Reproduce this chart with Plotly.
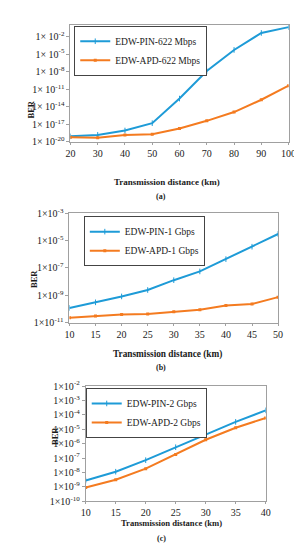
import plotly.graph_objects as go

W, H = 302, 550

# Panel (a) data
dist_a = [20, 30, 40, 50, 60, 70, 80, 90, 100]
pin_a_log = [-19.05, -18.8, -18.05, -16.8, -12.6, -7.9, -4.3, -1.4, -0.4]
apd_a_log = [-19.2, -19.3, -18.8, -18.7, -17.7, -16.4, -14.9, -12.8, -10.4]
# Panel (b) data
dist_b = [10, 15, 20, 25, 30, 35, 40, 45, 50]
pin_b_log = [-9.93, -9.52, -9.09, -8.62, -7.9, -7.26, -6.36, -5.45, -4.52]
apd_b_log = [-10.64, -10.52, -10.41, -10.38, -10.21, -10.07, -9.76, -9.64, -9.14]
# Panel (c) data
dist_c = [10, 15, 20, 25, 30, 35, 40]
pin_c_log = [-8.56, -7.95, -7.15, -6.25, -5.34, -4.49, -3.69]
apd_c_log = [-9.05, -8.51, -7.74, -6.75, -5.73, -4.9, -4.22]

pin_a = [10 ** v for v in pin_a_log]
apd_a = [10 ** v for v in apd_a_log]
pin_b = [10 ** v for v in pin_b_log]
apd_b = [10 ** v for v in apd_b_log]
pin_c = [10 ** v for v in pin_c_log]
apd_c = [10 ** v for v in apd_c_log]

ytick_a = [-20, -17, -14, -11, -8, -5, -2]
ytick_b = [-11, -9, -7, -5, -3]
ytick_c = [-10, -9, -8, -7, -6, -5, -4, -3, -2]

names = [("EDW-PIN-622 Mbps", "EDW-APD-622 Mbps"),
         ("EDW-PIN-1 Gbps", "EDW-APD-1 Gbps"),
         ("EDW-PIN-2 Gbps", "EDW-APD-2 Gbps")]

BLUE = "#1E9BD7"
ORANGE = "#F47B20"
FONT = "Liberation Serif"
TXT = "#1a1a1a"
AX = "#a0a0a0"

def px(x):
    return x / W

def py(y):
    return 1 - y / H

fig = go.Figure()

panels = [
    dict(x=dist_a, pin=pin_a, apd=apd_a, box=(60, 288, 10, 130), yr=[-20, 0], yt=ytick_a,
         fmt="1× 10<sup>%d</sup>", xt=dist_a, leg=(64, 11), cap="(a)",
         xt_x=160.5, xtitle_y=164, xt_size=9, cap_y=179, ber_x=12, ber_y=85),
    dict(x=dist_b, pin=pin_b, apd=apd_b, box=(59, 277, 203, 315), yr=[-11, -3], yt=ytick_b,
         fmt="1×10<sup>%d</sup>", xt=dist_b, leg=(74, 206), cap="(b)",
         xt_x=161, xtitle_y=348, xt_size=9.3, cap_y=361, ber_x=14, ber_y=270),
    dict(x=dist_c, pin=pin_c, apd=apd_c, box=(76, 264, 380, 498), yr=[-10, -2], yt=ytick_c,
         fmt="1×10<sup>%d</sup>", xt=dist_c, leg=(76, 382), cap="(c)",
         xt_x=166, xtitle_y=527, xt_size=8.6, cap_y=543, ber_x=36, ber_y=442),
]

annotations = []
for i, p in enumerate(panels):
    n = "" if i == 0 else str(i + 1)
    xa, ya = "x" + n, "y" + n
    lg = "legend" + n
    fig.add_trace(go.Scatter(x=p["x"], y=p["pin"], name=names[i][0], mode="lines+markers",
                             line=dict(color=BLUE, width=2),
                             marker=dict(symbol="line-ns", size=4, line=dict(color=BLUE, width=1)),
                             xaxis=xa, yaxis=ya, legend=lg))
    fig.add_trace(go.Scatter(x=p["x"], y=p["apd"], name=names[i][1], mode="lines+markers",
                             line=dict(color=ORANGE, width=2),
                             marker=dict(symbol="square", size=3, color=ORANGE),
                             xaxis=xa, yaxis=ya, legend=lg))
    x0, x1, y0, y1 = p["box"]
    fig.layout["xaxis" + n] = dict(domain=[px(x0), px(x1)], anchor=ya,
                                   range=[p["x"][0], p["x"][-1]],
                                   tickvals=p["xt"], ticks="outside", ticklen=2, tickcolor=AX,
                                   showgrid=False, zeroline=False,
                                   showline=True, mirror=True, linecolor=AX, linewidth=1,
                                   tickfont=dict(family=FONT, size=10, color=TXT))
    fig.layout["yaxis" + n] = dict(domain=[py(y1), py(y0)], anchor=xa, type="log",
                                   range=p["yr"], tickvals=[10 ** v for v in p["yt"]],
                                   ticktext=[p["fmt"] % v for v in p["yt"]],
                                   ticks="outside", ticklen=3, tickcolor=AX,
                                   showgrid=False, zeroline=False,
                                   showline=True, mirror=True, linecolor=AX, linewidth=1,
                                   tickfont=dict(family=FONT, size=10, color=TXT))
    lx, ly = p["leg"]
    fig.layout[lg] = dict(x=px(lx), y=py(ly), xanchor="left", yanchor="top",
                          bgcolor="white", bordercolor="#444", borderwidth=1,
                          font=dict(family=FONT, size=9.5, color=TXT),
                          tracegroupgap=0, itemwidth=30)
    annotations.append(dict(x=px(p["xt_x"]), y=py(p["xtitle_y"]), xref="paper", yref="paper",
                            text="<b>Transmission distance (km)</b>", showarrow=False,
                            font=dict(family=FONT, size=p["xt_size"], color=TXT)))
    annotations.append(dict(x=px(155), y=py(p["cap_y"]), xref="paper", yref="paper",
                            text="<b>" + p["cap"] + "</b>", showarrow=False,
                            font=dict(family=FONT, size=8, color=TXT)))
    annotations.append(dict(x=px(p["ber_x"]), y=py(p["ber_y"]), xref="paper", yref="paper",
                            text="<b>BER</b>", textangle=-90, showarrow=False,
                            font=dict(family=FONT, size=8.5, color=TXT)))

fig.update_layout(width=W, height=H, margin=dict(l=0, r=0, t=0, b=0),
                  paper_bgcolor="white", plot_bgcolor="white",
                  annotations=annotations, showlegend=True)

fig.write_html("out.html")
